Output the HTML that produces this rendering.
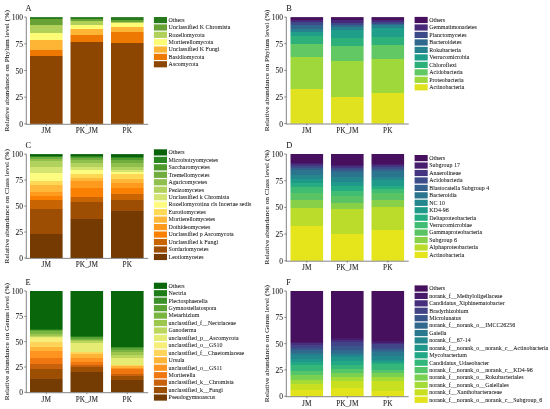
<!DOCTYPE html>
<html><head><meta charset="utf-8"><style>
html,body{margin:0;padding:0;background:#fff;}
svg{display:block;}
#w{width:550px;height:409px;will-change:transform;}
text{font-family:"Liberation Serif", serif;fill:#222;}
.ax{stroke:#222;stroke-width:0.06px;}
.lg{stroke:#222;stroke-width:0.06px;}
</style></head><body><div id="w">
<svg width="550" height="409" viewBox="0 0 550 409">
<rect width="550" height="409" fill="#fff"/>
<linearGradient id="gA0" gradientUnits="userSpaceOnUse" x1="0" y1="17.1" x2="0" y2="123.9"><stop offset="0.0000" stop-color="#267a1c"/><stop offset="0.0150" stop-color="#267a1c"/><stop offset="0.0150" stop-color="#68a234"/><stop offset="0.0730" stop-color="#68a234"/><stop offset="0.0730" stop-color="#b0d05a"/><stop offset="0.1517" stop-color="#b0d05a"/><stop offset="0.1517" stop-color="#fefb76"/><stop offset="0.2154" stop-color="#fefb76"/><stop offset="0.2154" stop-color="#feb434"/><stop offset="0.3052" stop-color="#feb434"/><stop offset="0.3052" stop-color="#ed7802"/><stop offset="0.3605" stop-color="#ed7802"/><stop offset="0.3605" stop-color="#8c4602"/><stop offset="1.0000" stop-color="#8c4602"/></linearGradient>
<rect x="30" y="17.1" width="32.6" height="106.8" fill="url(#gA0)"/>
<linearGradient id="gA1" gradientUnits="userSpaceOnUse" x1="0" y1="17.1" x2="0" y2="123.9"><stop offset="0.0000" stop-color="#267a1c"/><stop offset="0.0178" stop-color="#267a1c"/><stop offset="0.0178" stop-color="#68a234"/><stop offset="0.0346" stop-color="#68a234"/><stop offset="0.0346" stop-color="#b0d05a"/><stop offset="0.0730" stop-color="#b0d05a"/><stop offset="0.0730" stop-color="#fefb76"/><stop offset="0.1114" stop-color="#fefb76"/><stop offset="0.1114" stop-color="#feb434"/><stop offset="0.1667" stop-color="#feb434"/><stop offset="0.1667" stop-color="#ed7802"/><stop offset="0.2331" stop-color="#ed7802"/><stop offset="0.2331" stop-color="#8c4602"/><stop offset="1.0000" stop-color="#8c4602"/></linearGradient>
<rect x="70.5" y="17.1" width="32.6" height="106.8" fill="url(#gA1)"/>
<linearGradient id="gA2" gradientUnits="userSpaceOnUse" x1="0" y1="17.1" x2="0" y2="123.9"><stop offset="0.0000" stop-color="#267a1c"/><stop offset="0.0234" stop-color="#267a1c"/><stop offset="0.0234" stop-color="#68a234"/><stop offset="0.0412" stop-color="#68a234"/><stop offset="0.0412" stop-color="#b0d05a"/><stop offset="0.0506" stop-color="#b0d05a"/><stop offset="0.0506" stop-color="#fefb76"/><stop offset="0.0927" stop-color="#fefb76"/><stop offset="0.0927" stop-color="#feb434"/><stop offset="0.1414" stop-color="#feb434"/><stop offset="0.1414" stop-color="#ed7802"/><stop offset="0.2388" stop-color="#ed7802"/><stop offset="0.2388" stop-color="#8c4602"/><stop offset="1.0000" stop-color="#8c4602"/></linearGradient>
<rect x="111" y="17.1" width="32.6" height="106.8" fill="url(#gA2)"/>
<line x1="26.3" y1="17.1" x2="26.3" y2="124.3" stroke="#777" stroke-width="0.9"/>
<line x1="25.85" y1="124.3" x2="148.2" y2="124.3" stroke="#777" stroke-width="0.9"/>
<line x1="24.3" y1="17.1" x2="26.3" y2="17.1" stroke="#777" stroke-width="0.9"/>
<text x="23.1" y="20.1" text-anchor="end" font-size="7.2" textLength="11.25" lengthAdjust="spacingAndGlyphs" class="ax">100</text>
<line x1="24.3" y1="43.8" x2="26.3" y2="43.8" stroke="#777" stroke-width="0.9"/>
<text x="23.1" y="46.8" text-anchor="end" font-size="7.2" textLength="7.50" lengthAdjust="spacingAndGlyphs" class="ax">75</text>
<line x1="24.3" y1="70.5" x2="26.3" y2="70.5" stroke="#777" stroke-width="0.9"/>
<text x="23.1" y="73.5" text-anchor="end" font-size="7.2" textLength="7.50" lengthAdjust="spacingAndGlyphs" class="ax">50</text>
<line x1="24.3" y1="97.2" x2="26.3" y2="97.2" stroke="#777" stroke-width="0.9"/>
<text x="23.1" y="100.2" text-anchor="end" font-size="7.2" textLength="7.50" lengthAdjust="spacingAndGlyphs" class="ax">25</text>
<line x1="24.3" y1="123.9" x2="26.3" y2="123.9" stroke="#777" stroke-width="0.9"/>
<text x="23.1" y="126.9" text-anchor="end" font-size="7.2" textLength="3.75" lengthAdjust="spacingAndGlyphs" class="ax">0</text>
<line x1="46.3" y1="123.9" x2="46.3" y2="125.7" stroke="#777" stroke-width="0.9"/>
<text x="46.3" y="133.4" text-anchor="middle" font-size="7.2" textLength="9.33" lengthAdjust="spacingAndGlyphs" class="ax">JM</text>
<line x1="86.8" y1="123.9" x2="86.8" y2="125.7" stroke="#777" stroke-width="0.9"/>
<text x="86.8" y="133.4" text-anchor="middle" font-size="7.2" textLength="22.31" lengthAdjust="spacingAndGlyphs" class="ax">PK_JM</text>
<line x1="127.3" y1="123.9" x2="127.3" y2="125.7" stroke="#777" stroke-width="0.9"/>
<text x="127.3" y="133.4" text-anchor="middle" font-size="7.2" textLength="9.33" lengthAdjust="spacingAndGlyphs" class="ax">PK</text>
<text x="25.6" y="11" font-size="8.3" class="ax">A</text>
<text transform="translate(9.2,70.85) rotate(-90)" text-anchor="middle" font-size="7.0" textLength="121.45" lengthAdjust="spacingAndGlyphs" class="ax">Relative abundance on Phylum level (%)</text>
<rect x="153.9" y="17" width="13.1" height="6.2" fill="#267a1c"/>
<text x="168.6" y="21.9" font-size="6.6" textLength="15.86" lengthAdjust="spacingAndGlyphs" class="lg">Others</text>
<rect x="153.9" y="24.36" width="13.1" height="6.2" fill="#68a234"/>
<text x="168.6" y="29.26" font-size="6.6" textLength="61.81" lengthAdjust="spacingAndGlyphs" class="lg">Unclassified K Chromista</text>
<rect x="153.9" y="31.72" width="13.1" height="6.2" fill="#b0d05a"/>
<text x="168.6" y="36.62" font-size="6.6" textLength="36.02" lengthAdjust="spacingAndGlyphs" class="lg">Rozellomycota</text>
<rect x="153.9" y="39.08" width="13.1" height="6.2" fill="#fefb76"/>
<text x="168.6" y="43.98" font-size="6.6" textLength="44.61" lengthAdjust="spacingAndGlyphs" class="lg">Mortierellomycota</text>
<rect x="153.9" y="46.44" width="13.1" height="6.2" fill="#feb434"/>
<text x="168.6" y="51.34" font-size="6.6" textLength="50.90" lengthAdjust="spacingAndGlyphs" class="lg">Unclassified K Fungi</text>
<rect x="153.9" y="53.8" width="13.1" height="6.2" fill="#ed7802"/>
<text x="168.6" y="58.7" font-size="6.6" textLength="35.70" lengthAdjust="spacingAndGlyphs" class="lg">Basidiomycota</text>
<rect x="153.9" y="61.16" width="13.1" height="6.2" fill="#8c4602"/>
<text x="168.6" y="66.06" font-size="6.6" textLength="29.74" lengthAdjust="spacingAndGlyphs" class="lg">Ascomycota</text>
<linearGradient id="gB0" gradientUnits="userSpaceOnUse" x1="0" y1="17.1" x2="0" y2="123.6"><stop offset="0.0000" stop-color="#46105e"/><stop offset="0.0291" stop-color="#46105e"/><stop offset="0.0291" stop-color="#482878"/><stop offset="0.0498" stop-color="#482878"/><stop offset="0.0498" stop-color="#3e4989"/><stop offset="0.0779" stop-color="#3e4989"/><stop offset="0.0779" stop-color="#31688e"/><stop offset="0.1117" stop-color="#31688e"/><stop offset="0.1117" stop-color="#26828e"/><stop offset="0.1399" stop-color="#26828e"/><stop offset="0.1399" stop-color="#1f9e89"/><stop offset="0.1775" stop-color="#1f9e89"/><stop offset="0.1775" stop-color="#2db07a"/><stop offset="0.2516" stop-color="#2db07a"/><stop offset="0.2516" stop-color="#62c864"/><stop offset="0.3784" stop-color="#62c864"/><stop offset="0.3784" stop-color="#9fd83a"/><stop offset="0.6751" stop-color="#9fd83a"/><stop offset="0.6751" stop-color="#e0e21f"/><stop offset="1.0000" stop-color="#e0e21f"/></linearGradient>
<rect x="290.5" y="17.1" width="32.6" height="106.5" fill="url(#gB0)"/>
<linearGradient id="gB1" gradientUnits="userSpaceOnUse" x1="0" y1="17.1" x2="0" y2="123.6"><stop offset="0.0000" stop-color="#46105e"/><stop offset="0.0263" stop-color="#46105e"/><stop offset="0.0263" stop-color="#482878"/><stop offset="0.0516" stop-color="#482878"/><stop offset="0.0516" stop-color="#3e4989"/><stop offset="0.0695" stop-color="#3e4989"/><stop offset="0.0695" stop-color="#31688e"/><stop offset="0.0883" stop-color="#31688e"/><stop offset="0.0883" stop-color="#26828e"/><stop offset="0.1258" stop-color="#26828e"/><stop offset="0.1258" stop-color="#1f9e89"/><stop offset="0.1944" stop-color="#1f9e89"/><stop offset="0.1944" stop-color="#2db07a"/><stop offset="0.2685" stop-color="#2db07a"/><stop offset="0.2685" stop-color="#62c864"/><stop offset="0.4113" stop-color="#62c864"/><stop offset="0.4113" stop-color="#9fd83a"/><stop offset="0.7540" stop-color="#9fd83a"/><stop offset="0.7540" stop-color="#e0e21f"/><stop offset="1.0000" stop-color="#e0e21f"/></linearGradient>
<rect x="331" y="17.1" width="32.6" height="106.5" fill="url(#gB1)"/>
<linearGradient id="gB2" gradientUnits="userSpaceOnUse" x1="0" y1="17.1" x2="0" y2="123.6"><stop offset="0.0000" stop-color="#46105e"/><stop offset="0.0263" stop-color="#46105e"/><stop offset="0.0263" stop-color="#482878"/><stop offset="0.0451" stop-color="#482878"/><stop offset="0.0451" stop-color="#3e4989"/><stop offset="0.0601" stop-color="#3e4989"/><stop offset="0.0601" stop-color="#31688e"/><stop offset="0.0761" stop-color="#31688e"/><stop offset="0.0761" stop-color="#26828e"/><stop offset="0.1070" stop-color="#26828e"/><stop offset="0.1070" stop-color="#1f9e89"/><stop offset="0.1822" stop-color="#1f9e89"/><stop offset="0.1822" stop-color="#2db07a"/><stop offset="0.2620" stop-color="#2db07a"/><stop offset="0.2620" stop-color="#62c864"/><stop offset="0.3925" stop-color="#62c864"/><stop offset="0.3925" stop-color="#9fd83a"/><stop offset="0.7108" stop-color="#9fd83a"/><stop offset="0.7108" stop-color="#e0e21f"/><stop offset="1.0000" stop-color="#e0e21f"/></linearGradient>
<rect x="371.5" y="17.1" width="32.6" height="106.5" fill="url(#gB2)"/>
<line x1="286.3" y1="17.1" x2="286.3" y2="124" stroke="#777" stroke-width="0.9"/>
<line x1="285.85" y1="124" x2="408.7" y2="124" stroke="#777" stroke-width="0.9"/>
<line x1="284.3" y1="17.1" x2="286.3" y2="17.1" stroke="#777" stroke-width="0.9"/>
<text x="283.1" y="20.1" text-anchor="end" font-size="7.2" textLength="11.25" lengthAdjust="spacingAndGlyphs" class="ax">100</text>
<line x1="284.3" y1="43.73" x2="286.3" y2="43.73" stroke="#777" stroke-width="0.9"/>
<text x="283.1" y="46.73" text-anchor="end" font-size="7.2" textLength="7.50" lengthAdjust="spacingAndGlyphs" class="ax">75</text>
<line x1="284.3" y1="70.35" x2="286.3" y2="70.35" stroke="#777" stroke-width="0.9"/>
<text x="283.1" y="73.35" text-anchor="end" font-size="7.2" textLength="7.50" lengthAdjust="spacingAndGlyphs" class="ax">50</text>
<line x1="284.3" y1="96.97" x2="286.3" y2="96.97" stroke="#777" stroke-width="0.9"/>
<text x="283.1" y="99.97" text-anchor="end" font-size="7.2" textLength="7.50" lengthAdjust="spacingAndGlyphs" class="ax">25</text>
<line x1="284.3" y1="123.6" x2="286.3" y2="123.6" stroke="#777" stroke-width="0.9"/>
<text x="283.1" y="126.6" text-anchor="end" font-size="7.2" textLength="3.75" lengthAdjust="spacingAndGlyphs" class="ax">0</text>
<line x1="306.8" y1="123.6" x2="306.8" y2="125.4" stroke="#777" stroke-width="0.9"/>
<text x="306.8" y="133" text-anchor="middle" font-size="7.2" textLength="9.33" lengthAdjust="spacingAndGlyphs" class="ax">JM</text>
<line x1="347.3" y1="123.6" x2="347.3" y2="125.4" stroke="#777" stroke-width="0.9"/>
<text x="347.3" y="133" text-anchor="middle" font-size="7.2" textLength="22.31" lengthAdjust="spacingAndGlyphs" class="ax">PK_JM</text>
<line x1="387.8" y1="123.6" x2="387.8" y2="125.4" stroke="#777" stroke-width="0.9"/>
<text x="387.8" y="133" text-anchor="middle" font-size="7.2" textLength="9.33" lengthAdjust="spacingAndGlyphs" class="ax">PK</text>
<text x="286.3" y="10.8" font-size="8.3" class="ax">B</text>
<text transform="translate(269.2,70.45) rotate(-90)" text-anchor="middle" font-size="7.0" textLength="121.45" lengthAdjust="spacingAndGlyphs" class="ax">Relative abundance on Phylum level (%)</text>
<rect x="414.6" y="16.9" width="13.1" height="6.2" fill="#46105e"/>
<text x="429.3" y="21.8" font-size="6.6" textLength="15.86" lengthAdjust="spacingAndGlyphs" class="lg">Others</text>
<rect x="414.6" y="24.38" width="13.1" height="6.2" fill="#482878"/>
<text x="429.3" y="29.28" font-size="6.6" textLength="47.59" lengthAdjust="spacingAndGlyphs" class="lg">Gemmatimonadetes</text>
<rect x="414.6" y="31.86" width="13.1" height="6.2" fill="#3e4989"/>
<text x="429.3" y="36.76" font-size="6.6" textLength="37.34" lengthAdjust="spacingAndGlyphs" class="lg">Planctomycetes</text>
<rect x="414.6" y="39.34" width="13.1" height="6.2" fill="#31688e"/>
<text x="429.3" y="44.24" font-size="6.6" textLength="32.38" lengthAdjust="spacingAndGlyphs" class="lg">Bacteroidetes</text>
<rect x="414.6" y="46.82" width="13.1" height="6.2" fill="#26828e"/>
<text x="429.3" y="51.72" font-size="6.6" textLength="31.72" lengthAdjust="spacingAndGlyphs" class="lg">Rokubacteria</text>
<rect x="414.6" y="54.3" width="13.1" height="6.2" fill="#1f9e89"/>
<text x="429.3" y="59.2" font-size="6.6" textLength="39.98" lengthAdjust="spacingAndGlyphs" class="lg">Verrucomicrobia</text>
<rect x="414.6" y="61.78" width="13.1" height="6.2" fill="#2db07a"/>
<text x="429.3" y="66.68" font-size="6.6" textLength="27.43" lengthAdjust="spacingAndGlyphs" class="lg">Chloroflexi</text>
<rect x="414.6" y="69.26" width="13.1" height="6.2" fill="#62c864"/>
<text x="429.3" y="74.16" font-size="6.6" textLength="33.37" lengthAdjust="spacingAndGlyphs" class="lg">Acidobacteria</text>
<rect x="414.6" y="76.74" width="13.1" height="6.2" fill="#9fd83a"/>
<text x="429.3" y="81.64" font-size="6.6" textLength="34.36" lengthAdjust="spacingAndGlyphs" class="lg">Proteobacteria</text>
<rect x="414.6" y="84.22" width="13.1" height="6.2" fill="#e0e21f"/>
<text x="429.3" y="89.12" font-size="6.6" textLength="35.02" lengthAdjust="spacingAndGlyphs" class="lg">Actinobacteria</text>
<linearGradient id="gC0" gradientUnits="userSpaceOnUse" x1="0" y1="154.1" x2="0" y2="258"><stop offset="0.0000" stop-color="#08620a"/><stop offset="0.0164" stop-color="#08620a"/><stop offset="0.0164" stop-color="#2a8620"/><stop offset="0.0231" stop-color="#2a8620"/><stop offset="0.0231" stop-color="#4f9a2d"/><stop offset="0.0327" stop-color="#4f9a2d"/><stop offset="0.0327" stop-color="#70ad3e"/><stop offset="0.0481" stop-color="#70ad3e"/><stop offset="0.0481" stop-color="#8fbf4d"/><stop offset="0.0693" stop-color="#8fbf4d"/><stop offset="0.0693" stop-color="#b2d25e"/><stop offset="0.1222" stop-color="#b2d25e"/><stop offset="0.1222" stop-color="#d4e470"/><stop offset="0.1819" stop-color="#d4e470"/><stop offset="0.1819" stop-color="#fdfb80"/><stop offset="0.2570" stop-color="#fdfb80"/><stop offset="0.2570" stop-color="#ffd955"/><stop offset="0.2945" stop-color="#ffd955"/><stop offset="0.2945" stop-color="#ffb83a"/><stop offset="0.3648" stop-color="#ffb83a"/><stop offset="0.3648" stop-color="#ff9a1f"/><stop offset="0.4052" stop-color="#ff9a1f"/><stop offset="0.4052" stop-color="#f98002"/><stop offset="0.4418" stop-color="#f98002"/><stop offset="0.4418" stop-color="#c96402"/><stop offset="0.5265" stop-color="#c96402"/><stop offset="0.5265" stop-color="#9e4e02"/><stop offset="0.7680" stop-color="#9e4e02"/><stop offset="0.7680" stop-color="#743a02"/><stop offset="1.0000" stop-color="#743a02"/></linearGradient>
<rect x="30" y="154.1" width="32.6" height="103.9" fill="url(#gC0)"/>
<linearGradient id="gC1" gradientUnits="userSpaceOnUse" x1="0" y1="154.1" x2="0" y2="258"><stop offset="0.0000" stop-color="#08620a"/><stop offset="0.0173" stop-color="#08620a"/><stop offset="0.0173" stop-color="#2a8620"/><stop offset="0.0279" stop-color="#2a8620"/><stop offset="0.0279" stop-color="#4f9a2d"/><stop offset="0.0385" stop-color="#4f9a2d"/><stop offset="0.0385" stop-color="#70ad3e"/><stop offset="0.0597" stop-color="#70ad3e"/><stop offset="0.0597" stop-color="#8fbf4d"/><stop offset="0.0876" stop-color="#8fbf4d"/><stop offset="0.0876" stop-color="#b2d25e"/><stop offset="0.1232" stop-color="#b2d25e"/><stop offset="0.1232" stop-color="#d4e470"/><stop offset="0.1550" stop-color="#d4e470"/><stop offset="0.1550" stop-color="#fdfb80"/><stop offset="0.1935" stop-color="#fdfb80"/><stop offset="0.1935" stop-color="#ffd955"/><stop offset="0.2291" stop-color="#ffd955"/><stop offset="0.2291" stop-color="#ffb83a"/><stop offset="0.2637" stop-color="#ffb83a"/><stop offset="0.2637" stop-color="#ff9a1f"/><stop offset="0.3272" stop-color="#ff9a1f"/><stop offset="0.3272" stop-color="#f98002"/><stop offset="0.4100" stop-color="#f98002"/><stop offset="0.4100" stop-color="#c96402"/><stop offset="0.4620" stop-color="#c96402"/><stop offset="0.4620" stop-color="#9e4e02"/><stop offset="0.6227" stop-color="#9e4e02"/><stop offset="0.6227" stop-color="#743a02"/><stop offset="1.0000" stop-color="#743a02"/></linearGradient>
<rect x="70.5" y="154.1" width="32.6" height="103.9" fill="url(#gC1)"/>
<linearGradient id="gC2" gradientUnits="userSpaceOnUse" x1="0" y1="154.1" x2="0" y2="258"><stop offset="0.0000" stop-color="#08620a"/><stop offset="0.0241" stop-color="#08620a"/><stop offset="0.0241" stop-color="#2a8620"/><stop offset="0.0375" stop-color="#2a8620"/><stop offset="0.0375" stop-color="#4f9a2d"/><stop offset="0.0520" stop-color="#4f9a2d"/><stop offset="0.0520" stop-color="#70ad3e"/><stop offset="0.0876" stop-color="#70ad3e"/><stop offset="0.0876" stop-color="#8fbf4d"/><stop offset="0.1232" stop-color="#8fbf4d"/><stop offset="0.1232" stop-color="#b2d25e"/><stop offset="0.1511" stop-color="#b2d25e"/><stop offset="0.1511" stop-color="#d4e470"/><stop offset="0.1723" stop-color="#d4e470"/><stop offset="0.1723" stop-color="#fdfb80"/><stop offset="0.1935" stop-color="#fdfb80"/><stop offset="0.1935" stop-color="#ffd955"/><stop offset="0.2358" stop-color="#ffd955"/><stop offset="0.2358" stop-color="#ffb83a"/><stop offset="0.2782" stop-color="#ffb83a"/><stop offset="0.2782" stop-color="#ff9a1f"/><stop offset="0.3224" stop-color="#ff9a1f"/><stop offset="0.3224" stop-color="#f98002"/><stop offset="0.3888" stop-color="#f98002"/><stop offset="0.3888" stop-color="#c96402"/><stop offset="0.4418" stop-color="#c96402"/><stop offset="0.4418" stop-color="#9e4e02"/><stop offset="0.5476" stop-color="#9e4e02"/><stop offset="0.5476" stop-color="#743a02"/><stop offset="1.0000" stop-color="#743a02"/></linearGradient>
<rect x="111" y="154.1" width="32.6" height="103.9" fill="url(#gC2)"/>
<line x1="26.3" y1="154.1" x2="26.3" y2="258.4" stroke="#777" stroke-width="0.9"/>
<line x1="25.85" y1="258.4" x2="148.2" y2="258.4" stroke="#777" stroke-width="0.9"/>
<line x1="24.3" y1="154.1" x2="26.3" y2="154.1" stroke="#777" stroke-width="0.9"/>
<text x="23.1" y="157.1" text-anchor="end" font-size="7.2" textLength="11.25" lengthAdjust="spacingAndGlyphs" class="ax">100</text>
<line x1="24.3" y1="180.07" x2="26.3" y2="180.07" stroke="#777" stroke-width="0.9"/>
<text x="23.1" y="183.07" text-anchor="end" font-size="7.2" textLength="7.50" lengthAdjust="spacingAndGlyphs" class="ax">75</text>
<line x1="24.3" y1="206.05" x2="26.3" y2="206.05" stroke="#777" stroke-width="0.9"/>
<text x="23.1" y="209.05" text-anchor="end" font-size="7.2" textLength="7.50" lengthAdjust="spacingAndGlyphs" class="ax">50</text>
<line x1="24.3" y1="232.03" x2="26.3" y2="232.03" stroke="#777" stroke-width="0.9"/>
<text x="23.1" y="235.03" text-anchor="end" font-size="7.2" textLength="7.50" lengthAdjust="spacingAndGlyphs" class="ax">25</text>
<line x1="24.3" y1="258" x2="26.3" y2="258" stroke="#777" stroke-width="0.9"/>
<text x="23.1" y="261" text-anchor="end" font-size="7.2" textLength="3.75" lengthAdjust="spacingAndGlyphs" class="ax">0</text>
<line x1="46.3" y1="258" x2="46.3" y2="259.8" stroke="#777" stroke-width="0.9"/>
<text x="46.3" y="266.9" text-anchor="middle" font-size="7.2" textLength="9.33" lengthAdjust="spacingAndGlyphs" class="ax">JM</text>
<line x1="86.8" y1="258" x2="86.8" y2="259.8" stroke="#777" stroke-width="0.9"/>
<text x="86.8" y="266.9" text-anchor="middle" font-size="7.2" textLength="22.31" lengthAdjust="spacingAndGlyphs" class="ax">PK_JM</text>
<line x1="127.3" y1="258" x2="127.3" y2="259.8" stroke="#777" stroke-width="0.9"/>
<text x="127.3" y="266.9" text-anchor="middle" font-size="7.2" textLength="9.33" lengthAdjust="spacingAndGlyphs" class="ax">PK</text>
<text x="25.6" y="147.5" font-size="8.3" class="ax">C</text>
<text transform="translate(9.2,206.25) rotate(-90)" text-anchor="middle" font-size="7.0" textLength="114.46" lengthAdjust="spacingAndGlyphs" class="ax">Relative abundance on Class level (%)</text>
<rect x="153.9" y="149.3" width="13.1" height="6.2" fill="#08620a"/>
<text x="168.6" y="154.2" font-size="6.6" textLength="15.86" lengthAdjust="spacingAndGlyphs" class="lg">Others</text>
<rect x="153.9" y="156.77" width="13.1" height="6.2" fill="#2a8620"/>
<text x="168.6" y="161.67" font-size="6.6" textLength="49.57" lengthAdjust="spacingAndGlyphs" class="lg">Microbotryomycetes</text>
<rect x="153.9" y="164.24" width="13.1" height="6.2" fill="#4f9a2d"/>
<text x="168.6" y="169.14" font-size="6.6" textLength="41.30" lengthAdjust="spacingAndGlyphs" class="lg">Saccharomycetes</text>
<rect x="153.9" y="171.71" width="13.1" height="6.2" fill="#70ad3e"/>
<text x="168.6" y="176.61" font-size="6.6" textLength="41.09" lengthAdjust="spacingAndGlyphs" class="lg">Tremellomycetes</text>
<rect x="153.9" y="179.18" width="13.1" height="6.2" fill="#8fbf4d"/>
<text x="168.6" y="184.08" font-size="6.6" textLength="38.66" lengthAdjust="spacingAndGlyphs" class="lg">Agaricomycetes</text>
<rect x="153.9" y="186.65" width="13.1" height="6.2" fill="#b2d25e"/>
<text x="168.6" y="191.55" font-size="6.6" textLength="35.36" lengthAdjust="spacingAndGlyphs" class="lg">Pezizomycetes</text>
<rect x="153.9" y="194.12" width="13.1" height="6.2" fill="#d4e470"/>
<text x="168.6" y="199.02" font-size="6.6" textLength="60.48" lengthAdjust="spacingAndGlyphs" class="lg">Unclassified k Chromista</text>
<rect x="153.9" y="201.59" width="13.1" height="6.2" fill="#fdfb80"/>
<text x="168.6" y="206.49" font-size="6.6" textLength="82.78" lengthAdjust="spacingAndGlyphs" class="lg">Rozellomycotina cls Incertae sedis</text>
<rect x="153.9" y="209.06" width="13.1" height="6.2" fill="#ffd955"/>
<text x="168.6" y="213.96" font-size="6.6" textLength="37.34" lengthAdjust="spacingAndGlyphs" class="lg">Eurotiomycetes</text>
<rect x="153.9" y="216.53" width="13.1" height="6.2" fill="#ffb83a"/>
<text x="168.6" y="221.43" font-size="6.6" textLength="46.59" lengthAdjust="spacingAndGlyphs" class="lg">Mortierellomycetes</text>
<rect x="153.9" y="224" width="13.1" height="6.2" fill="#ff9a1f"/>
<text x="168.6" y="228.9" font-size="6.6" textLength="41.64" lengthAdjust="spacingAndGlyphs" class="lg">Dothideomycetes</text>
<rect x="153.9" y="231.47" width="13.1" height="6.2" fill="#f98002"/>
<text x="168.6" y="236.37" font-size="6.6" textLength="65.11" lengthAdjust="spacingAndGlyphs" class="lg">Unclassified p Ascomycota</text>
<rect x="153.9" y="238.94" width="13.1" height="6.2" fill="#c96402"/>
<text x="168.6" y="243.84" font-size="6.6" textLength="49.58" lengthAdjust="spacingAndGlyphs" class="lg">Unclassified k Fungi</text>
<rect x="153.9" y="246.41" width="13.1" height="6.2" fill="#9e4e02"/>
<text x="168.6" y="251.31" font-size="6.6" textLength="39.99" lengthAdjust="spacingAndGlyphs" class="lg">Sordariomycetes</text>
<rect x="153.9" y="253.88" width="13.1" height="6.2" fill="#743a02"/>
<text x="168.6" y="258.78" font-size="6.6" textLength="35.03" lengthAdjust="spacingAndGlyphs" class="lg">Leotiomycetes</text>
<linearGradient id="gD0" gradientUnits="userSpaceOnUse" x1="0" y1="154" x2="0" y2="260.8"><stop offset="0.0000" stop-color="#46105e"/><stop offset="0.0871" stop-color="#46105e"/><stop offset="0.0871" stop-color="#481c6e"/><stop offset="0.0983" stop-color="#481c6e"/><stop offset="0.0983" stop-color="#453581"/><stop offset="0.1105" stop-color="#453581"/><stop offset="0.1105" stop-color="#3d4d8a"/><stop offset="0.1330" stop-color="#3d4d8a"/><stop offset="0.1330" stop-color="#34618d"/><stop offset="0.1526" stop-color="#34618d"/><stop offset="0.1526" stop-color="#2b748e"/><stop offset="0.1938" stop-color="#2b748e"/><stop offset="0.1938" stop-color="#24878e"/><stop offset="0.2350" stop-color="#24878e"/><stop offset="0.2350" stop-color="#1f998a"/><stop offset="0.2725" stop-color="#1f998a"/><stop offset="0.2725" stop-color="#25ac82"/><stop offset="0.3090" stop-color="#25ac82"/><stop offset="0.3090" stop-color="#40bd72"/><stop offset="0.3680" stop-color="#40bd72"/><stop offset="0.3680" stop-color="#5ac464"/><stop offset="0.4307" stop-color="#5ac464"/><stop offset="0.4307" stop-color="#88d048"/><stop offset="0.5037" stop-color="#88d048"/><stop offset="0.5037" stop-color="#bcdc2c"/><stop offset="0.6751" stop-color="#bcdc2c"/><stop offset="0.6751" stop-color="#e6e41a"/><stop offset="1.0000" stop-color="#e6e41a"/></linearGradient>
<rect x="290.5" y="154" width="32.6" height="106.8" fill="url(#gD0)"/>
<linearGradient id="gD1" gradientUnits="userSpaceOnUse" x1="0" y1="154" x2="0" y2="260.8"><stop offset="0.0000" stop-color="#46105e"/><stop offset="0.1058" stop-color="#46105e"/><stop offset="0.1058" stop-color="#481c6e"/><stop offset="0.1170" stop-color="#481c6e"/><stop offset="0.1170" stop-color="#453581"/><stop offset="0.1301" stop-color="#453581"/><stop offset="0.1301" stop-color="#3d4d8a"/><stop offset="0.1517" stop-color="#3d4d8a"/><stop offset="0.1517" stop-color="#34618d"/><stop offset="0.1732" stop-color="#34618d"/><stop offset="0.1732" stop-color="#2b748e"/><stop offset="0.2172" stop-color="#2b748e"/><stop offset="0.2172" stop-color="#24878e"/><stop offset="0.2659" stop-color="#24878e"/><stop offset="0.2659" stop-color="#1f998a"/><stop offset="0.2996" stop-color="#1f998a"/><stop offset="0.2996" stop-color="#25ac82"/><stop offset="0.3418" stop-color="#25ac82"/><stop offset="0.3418" stop-color="#40bd72"/><stop offset="0.3979" stop-color="#40bd72"/><stop offset="0.3979" stop-color="#5ac464"/><stop offset="0.4579" stop-color="#5ac464"/><stop offset="0.4579" stop-color="#88d048"/><stop offset="0.5112" stop-color="#88d048"/><stop offset="0.5112" stop-color="#bcdc2c"/><stop offset="0.7491" stop-color="#bcdc2c"/><stop offset="0.7491" stop-color="#e6e41a"/><stop offset="1.0000" stop-color="#e6e41a"/></linearGradient>
<rect x="331" y="154" width="32.6" height="106.8" fill="url(#gD1)"/>
<linearGradient id="gD2" gradientUnits="userSpaceOnUse" x1="0" y1="154" x2="0" y2="260.8"><stop offset="0.0000" stop-color="#46105e"/><stop offset="0.0936" stop-color="#46105e"/><stop offset="0.0936" stop-color="#481c6e"/><stop offset="0.1058" stop-color="#481c6e"/><stop offset="0.1058" stop-color="#453581"/><stop offset="0.1180" stop-color="#453581"/><stop offset="0.1180" stop-color="#3d4d8a"/><stop offset="0.1395" stop-color="#3d4d8a"/><stop offset="0.1395" stop-color="#34618d"/><stop offset="0.1610" stop-color="#34618d"/><stop offset="0.1610" stop-color="#2b748e"/><stop offset="0.2107" stop-color="#2b748e"/><stop offset="0.2107" stop-color="#24878e"/><stop offset="0.2481" stop-color="#24878e"/><stop offset="0.2481" stop-color="#1f998a"/><stop offset="0.2968" stop-color="#1f998a"/><stop offset="0.2968" stop-color="#25ac82"/><stop offset="0.3277" stop-color="#25ac82"/><stop offset="0.3277" stop-color="#40bd72"/><stop offset="0.3605" stop-color="#40bd72"/><stop offset="0.3605" stop-color="#5ac464"/><stop offset="0.4326" stop-color="#5ac464"/><stop offset="0.4326" stop-color="#88d048"/><stop offset="0.4963" stop-color="#88d048"/><stop offset="0.4963" stop-color="#bcdc2c"/><stop offset="0.7079" stop-color="#bcdc2c"/><stop offset="0.7079" stop-color="#e6e41a"/><stop offset="1.0000" stop-color="#e6e41a"/></linearGradient>
<rect x="371.5" y="154" width="32.6" height="106.8" fill="url(#gD2)"/>
<line x1="286.3" y1="154" x2="286.3" y2="261.2" stroke="#777" stroke-width="0.9"/>
<line x1="285.85" y1="261.2" x2="408.7" y2="261.2" stroke="#777" stroke-width="0.9"/>
<line x1="284.3" y1="154" x2="286.3" y2="154" stroke="#777" stroke-width="0.9"/>
<text x="283.1" y="157" text-anchor="end" font-size="7.2" textLength="11.25" lengthAdjust="spacingAndGlyphs" class="ax">100</text>
<line x1="284.3" y1="180.7" x2="286.3" y2="180.7" stroke="#777" stroke-width="0.9"/>
<text x="283.1" y="183.7" text-anchor="end" font-size="7.2" textLength="7.50" lengthAdjust="spacingAndGlyphs" class="ax">75</text>
<line x1="284.3" y1="207.4" x2="286.3" y2="207.4" stroke="#777" stroke-width="0.9"/>
<text x="283.1" y="210.4" text-anchor="end" font-size="7.2" textLength="7.50" lengthAdjust="spacingAndGlyphs" class="ax">50</text>
<line x1="284.3" y1="234.1" x2="286.3" y2="234.1" stroke="#777" stroke-width="0.9"/>
<text x="283.1" y="237.1" text-anchor="end" font-size="7.2" textLength="7.50" lengthAdjust="spacingAndGlyphs" class="ax">25</text>
<line x1="284.3" y1="260.8" x2="286.3" y2="260.8" stroke="#777" stroke-width="0.9"/>
<text x="283.1" y="263.8" text-anchor="end" font-size="7.2" textLength="3.75" lengthAdjust="spacingAndGlyphs" class="ax">0</text>
<line x1="306.8" y1="260.8" x2="306.8" y2="262.6" stroke="#777" stroke-width="0.9"/>
<text x="306.8" y="269.9" text-anchor="middle" font-size="7.2" textLength="9.33" lengthAdjust="spacingAndGlyphs" class="ax">JM</text>
<line x1="347.3" y1="260.8" x2="347.3" y2="262.6" stroke="#777" stroke-width="0.9"/>
<text x="347.3" y="269.9" text-anchor="middle" font-size="7.2" textLength="22.31" lengthAdjust="spacingAndGlyphs" class="ax">PK_JM</text>
<line x1="387.8" y1="260.8" x2="387.8" y2="262.6" stroke="#777" stroke-width="0.9"/>
<text x="387.8" y="269.9" text-anchor="middle" font-size="7.2" textLength="9.33" lengthAdjust="spacingAndGlyphs" class="ax">PK</text>
<text x="286.3" y="147.5" font-size="8.3" class="ax">D</text>
<text transform="translate(269.2,207.2) rotate(-90)" text-anchor="middle" font-size="7.0" textLength="114.46" lengthAdjust="spacingAndGlyphs" class="ax">Relative abundance on Class level (%)</text>
<rect x="414.6" y="155" width="13.1" height="6.2" fill="#46105e"/>
<text x="429.3" y="159.9" font-size="6.6" textLength="15.86" lengthAdjust="spacingAndGlyphs" class="lg">Others</text>
<rect x="414.6" y="162.45" width="13.1" height="6.2" fill="#481c6e"/>
<text x="429.3" y="167.35" font-size="6.6" textLength="30.58" lengthAdjust="spacingAndGlyphs" class="lg">Subgroup 17</text>
<rect x="414.6" y="169.9" width="13.1" height="6.2" fill="#453581"/>
<text x="429.3" y="174.8" font-size="6.6" textLength="31.72" lengthAdjust="spacingAndGlyphs" class="lg">Anaerolineae</text>
<rect x="414.6" y="177.35" width="13.1" height="6.2" fill="#3d4d8a"/>
<text x="429.3" y="182.25" font-size="6.6" textLength="33.37" lengthAdjust="spacingAndGlyphs" class="lg">Acidobacteria</text>
<rect x="414.6" y="184.8" width="13.1" height="6.2" fill="#34618d"/>
<text x="429.3" y="189.7" font-size="6.6" textLength="59.82" lengthAdjust="spacingAndGlyphs" class="lg">Blastocatella Subgroup 4</text>
<rect x="414.6" y="192.25" width="13.1" height="6.2" fill="#2b748e"/>
<text x="429.3" y="197.15" font-size="6.6" textLength="27.42" lengthAdjust="spacingAndGlyphs" class="lg">Bacteroidia</text>
<rect x="414.6" y="199.7" width="13.1" height="6.2" fill="#24878e"/>
<text x="429.3" y="204.6" font-size="6.6" textLength="15.70" lengthAdjust="spacingAndGlyphs" class="lg">NC 10</text>
<rect x="414.6" y="207.15" width="13.1" height="6.2" fill="#1f998a"/>
<text x="429.3" y="212.05" font-size="6.6" textLength="19.50" lengthAdjust="spacingAndGlyphs" class="lg">KD4-96</text>
<rect x="414.6" y="214.6" width="13.1" height="6.2" fill="#25ac82"/>
<text x="429.3" y="219.5" font-size="6.6" textLength="46.91" lengthAdjust="spacingAndGlyphs" class="lg">Deltaproteobacteria</text>
<rect x="414.6" y="222.05" width="13.1" height="6.2" fill="#40bd72"/>
<text x="429.3" y="226.95" font-size="6.6" textLength="42.62" lengthAdjust="spacingAndGlyphs" class="lg">Verrucomicrobiae</text>
<rect x="414.6" y="229.5" width="13.1" height="6.2" fill="#5ac464"/>
<text x="429.3" y="234.4" font-size="6.6" textLength="52.86" lengthAdjust="spacingAndGlyphs" class="lg">Gammaproteobacteria</text>
<rect x="414.6" y="236.95" width="13.1" height="6.2" fill="#88d048"/>
<text x="429.3" y="241.85" font-size="6.6" textLength="27.60" lengthAdjust="spacingAndGlyphs" class="lg">Subgroup 6</text>
<rect x="414.6" y="244.4" width="13.1" height="6.2" fill="#bcdc2c"/>
<text x="429.3" y="249.3" font-size="6.6" textLength="48.57" lengthAdjust="spacingAndGlyphs" class="lg">Alphaproteobacteria</text>
<rect x="414.6" y="251.85" width="13.1" height="6.2" fill="#e6e41a"/>
<text x="429.3" y="256.75" font-size="6.6" textLength="35.02" lengthAdjust="spacingAndGlyphs" class="lg">Actinobacteria</text>
<linearGradient id="gE0" gradientUnits="userSpaceOnUse" x1="0" y1="291" x2="0" y2="392.3"><stop offset="0.0000" stop-color="#0a660a"/><stop offset="0.3722" stop-color="#0a660a"/><stop offset="0.3722" stop-color="#1f7d18"/><stop offset="0.3810" stop-color="#1f7d18"/><stop offset="0.3810" stop-color="#3c9029"/><stop offset="0.3889" stop-color="#3c9029"/><stop offset="0.3889" stop-color="#5ca336"/><stop offset="0.3968" stop-color="#5ca336"/><stop offset="0.3968" stop-color="#7ab541"/><stop offset="0.4205" stop-color="#7ab541"/><stop offset="0.4205" stop-color="#9cc64e"/><stop offset="0.4452" stop-color="#9cc64e"/><stop offset="0.4452" stop-color="#bcd75e"/><stop offset="0.4571" stop-color="#bcd75e"/><stop offset="0.4571" stop-color="#e6eb74"/><stop offset="0.4689" stop-color="#e6eb74"/><stop offset="0.4689" stop-color="#f7ee7a"/><stop offset="0.5054" stop-color="#f7ee7a"/><stop offset="0.5054" stop-color="#ffd458"/><stop offset="0.5479" stop-color="#ffd458"/><stop offset="0.5479" stop-color="#ffb438"/><stop offset="0.5874" stop-color="#ffb438"/><stop offset="0.5874" stop-color="#ff9520"/><stop offset="0.6565" stop-color="#ff9520"/><stop offset="0.6565" stop-color="#f07610"/><stop offset="0.7167" stop-color="#f07610"/><stop offset="0.7167" stop-color="#c8600c"/><stop offset="0.7749" stop-color="#c8600c"/><stop offset="0.7749" stop-color="#9c4e02"/><stop offset="0.8657" stop-color="#9c4e02"/><stop offset="0.8657" stop-color="#743c02"/><stop offset="1.0000" stop-color="#743c02"/></linearGradient>
<rect x="30" y="291" width="32.6" height="101.3" fill="url(#gE0)"/>
<linearGradient id="gE1" gradientUnits="userSpaceOnUse" x1="0" y1="291" x2="0" y2="392.3"><stop offset="0.0000" stop-color="#0a660a"/><stop offset="0.4432" stop-color="#0a660a"/><stop offset="0.4432" stop-color="#1f7d18"/><stop offset="0.4492" stop-color="#1f7d18"/><stop offset="0.4492" stop-color="#3c9029"/><stop offset="0.4590" stop-color="#3c9029"/><stop offset="0.4590" stop-color="#5ca336"/><stop offset="0.4699" stop-color="#5ca336"/><stop offset="0.4699" stop-color="#7ab541"/><stop offset="0.4817" stop-color="#7ab541"/><stop offset="0.4817" stop-color="#9cc64e"/><stop offset="0.4936" stop-color="#9cc64e"/><stop offset="0.4936" stop-color="#bcd75e"/><stop offset="0.5173" stop-color="#bcd75e"/><stop offset="0.5173" stop-color="#e6eb74"/><stop offset="0.6022" stop-color="#e6eb74"/><stop offset="0.6022" stop-color="#f7ee7a"/><stop offset="0.6061" stop-color="#f7ee7a"/><stop offset="0.6061" stop-color="#ffd458"/><stop offset="0.6259" stop-color="#ffd458"/><stop offset="0.6259" stop-color="#ffb438"/><stop offset="0.6565" stop-color="#ffb438"/><stop offset="0.6565" stop-color="#ff9520"/><stop offset="0.6989" stop-color="#ff9520"/><stop offset="0.6989" stop-color="#f07610"/><stop offset="0.7285" stop-color="#f07610"/><stop offset="0.7285" stop-color="#c8600c"/><stop offset="0.7532" stop-color="#c8600c"/><stop offset="0.7532" stop-color="#9c4e02"/><stop offset="0.8016" stop-color="#9c4e02"/><stop offset="0.8016" stop-color="#743c02"/><stop offset="1.0000" stop-color="#743c02"/></linearGradient>
<rect x="70.5" y="291" width="32.6" height="101.3" fill="url(#gE1)"/>
<linearGradient id="gE2" gradientUnits="userSpaceOnUse" x1="0" y1="291" x2="0" y2="392.3"><stop offset="0.0000" stop-color="#0a660a"/><stop offset="0.5568" stop-color="#0a660a"/><stop offset="0.5568" stop-color="#1f7d18"/><stop offset="0.5577" stop-color="#1f7d18"/><stop offset="0.5577" stop-color="#3c9029"/><stop offset="0.5587" stop-color="#3c9029"/><stop offset="0.5587" stop-color="#5ca336"/><stop offset="0.5805" stop-color="#5ca336"/><stop offset="0.5805" stop-color="#7ab541"/><stop offset="0.6032" stop-color="#7ab541"/><stop offset="0.6032" stop-color="#9cc64e"/><stop offset="0.6367" stop-color="#9cc64e"/><stop offset="0.6367" stop-color="#bcd75e"/><stop offset="0.6565" stop-color="#bcd75e"/><stop offset="0.6565" stop-color="#e6eb74"/><stop offset="0.7295" stop-color="#e6eb74"/><stop offset="0.7295" stop-color="#f7ee7a"/><stop offset="0.7335" stop-color="#f7ee7a"/><stop offset="0.7335" stop-color="#ffd458"/><stop offset="0.7433" stop-color="#ffd458"/><stop offset="0.7433" stop-color="#ffb438"/><stop offset="0.7562" stop-color="#ffb438"/><stop offset="0.7562" stop-color="#ff9520"/><stop offset="0.7651" stop-color="#ff9520"/><stop offset="0.7651" stop-color="#f07610"/><stop offset="0.8223" stop-color="#f07610"/><stop offset="0.8223" stop-color="#c8600c"/><stop offset="0.8421" stop-color="#c8600c"/><stop offset="0.8421" stop-color="#9c4e02"/><stop offset="0.8825" stop-color="#9c4e02"/><stop offset="0.8825" stop-color="#743c02"/><stop offset="1.0000" stop-color="#743c02"/></linearGradient>
<rect x="111" y="291" width="32.6" height="101.3" fill="url(#gE2)"/>
<line x1="26.3" y1="291" x2="26.3" y2="392.7" stroke="#777" stroke-width="0.9"/>
<line x1="25.85" y1="392.7" x2="148.2" y2="392.7" stroke="#777" stroke-width="0.9"/>
<line x1="24.3" y1="291" x2="26.3" y2="291" stroke="#777" stroke-width="0.9"/>
<text x="23.1" y="294" text-anchor="end" font-size="7.2" textLength="11.25" lengthAdjust="spacingAndGlyphs" class="ax">100</text>
<line x1="24.3" y1="316.32" x2="26.3" y2="316.32" stroke="#777" stroke-width="0.9"/>
<text x="23.1" y="319.32" text-anchor="end" font-size="7.2" textLength="7.50" lengthAdjust="spacingAndGlyphs" class="ax">75</text>
<line x1="24.3" y1="341.65" x2="26.3" y2="341.65" stroke="#777" stroke-width="0.9"/>
<text x="23.1" y="344.65" text-anchor="end" font-size="7.2" textLength="7.50" lengthAdjust="spacingAndGlyphs" class="ax">50</text>
<line x1="24.3" y1="366.98" x2="26.3" y2="366.98" stroke="#777" stroke-width="0.9"/>
<text x="23.1" y="369.98" text-anchor="end" font-size="7.2" textLength="7.50" lengthAdjust="spacingAndGlyphs" class="ax">25</text>
<line x1="24.3" y1="392.3" x2="26.3" y2="392.3" stroke="#777" stroke-width="0.9"/>
<text x="23.1" y="395.3" text-anchor="end" font-size="7.2" textLength="3.75" lengthAdjust="spacingAndGlyphs" class="ax">0</text>
<line x1="46.3" y1="392.3" x2="46.3" y2="394.1" stroke="#777" stroke-width="0.9"/>
<text x="46.3" y="401.7" text-anchor="middle" font-size="7.2" textLength="9.33" lengthAdjust="spacingAndGlyphs" class="ax">JM</text>
<line x1="86.8" y1="392.3" x2="86.8" y2="394.1" stroke="#777" stroke-width="0.9"/>
<text x="86.8" y="401.7" text-anchor="middle" font-size="7.2" textLength="22.31" lengthAdjust="spacingAndGlyphs" class="ax">PK_JM</text>
<line x1="127.3" y1="392.3" x2="127.3" y2="394.1" stroke="#777" stroke-width="0.9"/>
<text x="127.3" y="401.7" text-anchor="middle" font-size="7.2" textLength="9.33" lengthAdjust="spacingAndGlyphs" class="ax">PK</text>
<text x="25.6" y="284.9" font-size="8.3" class="ax">E</text>
<text transform="translate(9.2,341.6) rotate(-90)" text-anchor="middle" font-size="7.0" textLength="117.33" lengthAdjust="spacingAndGlyphs" class="ax">Relative abundance on Genus level (%)</text>
<rect x="153.9" y="282.7" width="13.1" height="6.2" fill="#0a660a"/>
<text x="168.6" y="287.6" font-size="6.6" textLength="15.86" lengthAdjust="spacingAndGlyphs" class="lg">Others</text>
<rect x="153.9" y="290.15" width="13.1" height="6.2" fill="#1f7d18"/>
<text x="168.6" y="295.05" font-size="6.6" textLength="17.51" lengthAdjust="spacingAndGlyphs" class="lg">Nectria</text>
<rect x="153.9" y="297.6" width="13.1" height="6.2" fill="#3c9029"/>
<text x="168.6" y="302.5" font-size="6.6" textLength="38.99" lengthAdjust="spacingAndGlyphs" class="lg">Plectosphaerella</text>
<rect x="153.9" y="305.05" width="13.1" height="6.2" fill="#5ca336"/>
<text x="168.6" y="309.95" font-size="6.6" textLength="47.92" lengthAdjust="spacingAndGlyphs" class="lg">Gymnostellatospora</text>
<rect x="153.9" y="312.5" width="13.1" height="6.2" fill="#7ab541"/>
<text x="168.6" y="317.4" font-size="6.6" textLength="30.73" lengthAdjust="spacingAndGlyphs" class="lg">Metarhizium</text>
<rect x="153.9" y="319.95" width="13.1" height="6.2" fill="#9cc64e"/>
<text x="168.6" y="324.85" font-size="6.6" textLength="67.40" lengthAdjust="spacingAndGlyphs" class="lg">unclassified_f__Nectriaceae</text>
<rect x="153.9" y="327.4" width="13.1" height="6.2" fill="#bcd75e"/>
<text x="168.6" y="332.3" font-size="6.6" textLength="27.75" lengthAdjust="spacingAndGlyphs" class="lg">Ganoderma</text>
<rect x="153.9" y="334.85" width="13.1" height="6.2" fill="#e6eb74"/>
<text x="168.6" y="339.75" font-size="6.6" textLength="70.06" lengthAdjust="spacingAndGlyphs" class="lg">unclassified_p__Ascomycota</text>
<rect x="153.9" y="342.3" width="13.1" height="6.2" fill="#f7ee7a"/>
<text x="168.6" y="347.2" font-size="6.6" textLength="53.88" lengthAdjust="spacingAndGlyphs" class="lg">unclassified_o__GS10</text>
<rect x="153.9" y="349.75" width="13.1" height="6.2" fill="#ffd458"/>
<text x="168.6" y="354.65" font-size="6.6" textLength="75.67" lengthAdjust="spacingAndGlyphs" class="lg">unclassified_f__Chaetomiaceae</text>
<rect x="153.9" y="357.2" width="13.1" height="6.2" fill="#ffb438"/>
<text x="168.6" y="362.1" font-size="6.6" textLength="15.86" lengthAdjust="spacingAndGlyphs" class="lg">Ursula</text>
<rect x="153.9" y="364.65" width="13.1" height="6.2" fill="#ff9520"/>
<text x="168.6" y="369.55" font-size="6.6" textLength="53.66" lengthAdjust="spacingAndGlyphs" class="lg">unclassified_o__GS11</text>
<rect x="153.9" y="372.1" width="13.1" height="6.2" fill="#f07610"/>
<text x="168.6" y="377" font-size="6.6" textLength="26.76" lengthAdjust="spacingAndGlyphs" class="lg">Mortierella</text>
<rect x="153.9" y="379.55" width="13.1" height="6.2" fill="#c8600c"/>
<text x="168.6" y="384.45" font-size="6.6" textLength="65.11" lengthAdjust="spacingAndGlyphs" class="lg">unclassified_k__Chromista</text>
<rect x="153.9" y="387" width="13.1" height="6.2" fill="#9c4e02"/>
<text x="168.6" y="391.9" font-size="6.6" textLength="54.21" lengthAdjust="spacingAndGlyphs" class="lg">unclassified_k__Fungi</text>
<rect x="153.9" y="394.45" width="13.1" height="6.2" fill="#743c02"/>
<text x="168.6" y="399.35" font-size="6.6" textLength="46.61" lengthAdjust="spacingAndGlyphs" class="lg">Pseudogymnoascus</text>
<linearGradient id="gF0" gradientUnits="userSpaceOnUse" x1="0" y1="291" x2="0" y2="396.3"><stop offset="0.0000" stop-color="#46105e"/><stop offset="0.4796" stop-color="#46105e"/><stop offset="0.4796" stop-color="#481a6c"/><stop offset="0.4967" stop-color="#481a6c"/><stop offset="0.4967" stop-color="#472f7d"/><stop offset="0.5157" stop-color="#472f7d"/><stop offset="0.5157" stop-color="#414487"/><stop offset="0.5366" stop-color="#414487"/><stop offset="0.5366" stop-color="#39568c"/><stop offset="0.5584" stop-color="#39568c"/><stop offset="0.5584" stop-color="#31688e"/><stop offset="0.5869" stop-color="#31688e"/><stop offset="0.5869" stop-color="#2a788e"/><stop offset="0.6125" stop-color="#2a788e"/><stop offset="0.6125" stop-color="#23888e"/><stop offset="0.6420" stop-color="#23888e"/><stop offset="0.6420" stop-color="#1f988b"/><stop offset="0.6743" stop-color="#1f988b"/><stop offset="0.6743" stop-color="#22a884"/><stop offset="0.7075" stop-color="#22a884"/><stop offset="0.7075" stop-color="#35b779"/><stop offset="0.7578" stop-color="#35b779"/><stop offset="0.7578" stop-color="#54c568"/><stop offset="0.7996" stop-color="#54c568"/><stop offset="0.7996" stop-color="#7ad151"/><stop offset="0.8414" stop-color="#7ad151"/><stop offset="0.8414" stop-color="#a5db36"/><stop offset="0.8832" stop-color="#a5db36"/><stop offset="0.8832" stop-color="#c8e020"/><stop offset="0.9421" stop-color="#c8e020"/><stop offset="0.9421" stop-color="#e3e31c"/><stop offset="1.0000" stop-color="#e3e31c"/></linearGradient>
<rect x="290.5" y="291" width="32.6" height="105.3" fill="url(#gF0)"/>
<linearGradient id="gF1" gradientUnits="userSpaceOnUse" x1="0" y1="291" x2="0" y2="396.3"><stop offset="0.0000" stop-color="#46105e"/><stop offset="0.4435" stop-color="#46105e"/><stop offset="0.4435" stop-color="#481a6c"/><stop offset="0.4634" stop-color="#481a6c"/><stop offset="0.4634" stop-color="#472f7d"/><stop offset="0.4843" stop-color="#472f7d"/><stop offset="0.4843" stop-color="#414487"/><stop offset="0.5242" stop-color="#414487"/><stop offset="0.5242" stop-color="#39568c"/><stop offset="0.5575" stop-color="#39568c"/><stop offset="0.5575" stop-color="#31688e"/><stop offset="0.5897" stop-color="#31688e"/><stop offset="0.5897" stop-color="#2a788e"/><stop offset="0.6078" stop-color="#2a788e"/><stop offset="0.6078" stop-color="#23888e"/><stop offset="0.6315" stop-color="#23888e"/><stop offset="0.6315" stop-color="#1f988b"/><stop offset="0.6648" stop-color="#1f988b"/><stop offset="0.6648" stop-color="#22a884"/><stop offset="0.6990" stop-color="#22a884"/><stop offset="0.6990" stop-color="#35b779"/><stop offset="0.7407" stop-color="#35b779"/><stop offset="0.7407" stop-color="#54c568"/><stop offset="0.7749" stop-color="#54c568"/><stop offset="0.7749" stop-color="#7ad151"/><stop offset="0.8167" stop-color="#7ad151"/><stop offset="0.8167" stop-color="#a5db36"/><stop offset="0.8500" stop-color="#a5db36"/><stop offset="0.8500" stop-color="#c8e020"/><stop offset="0.9250" stop-color="#c8e020"/><stop offset="0.9250" stop-color="#e3e31c"/><stop offset="1.0000" stop-color="#e3e31c"/></linearGradient>
<rect x="331" y="291" width="32.6" height="105.3" fill="url(#gF1)"/>
<linearGradient id="gF2" gradientUnits="userSpaceOnUse" x1="0" y1="291" x2="0" y2="396.3"><stop offset="0.0000" stop-color="#46105e"/><stop offset="0.4748" stop-color="#46105e"/><stop offset="0.4748" stop-color="#481a6c"/><stop offset="0.4910" stop-color="#481a6c"/><stop offset="0.4910" stop-color="#472f7d"/><stop offset="0.5071" stop-color="#472f7d"/><stop offset="0.5071" stop-color="#414487"/><stop offset="0.5394" stop-color="#414487"/><stop offset="0.5394" stop-color="#39568c"/><stop offset="0.5603" stop-color="#39568c"/><stop offset="0.5603" stop-color="#31688e"/><stop offset="0.5802" stop-color="#31688e"/><stop offset="0.5802" stop-color="#2a788e"/><stop offset="0.6211" stop-color="#2a788e"/><stop offset="0.6211" stop-color="#23888e"/><stop offset="0.6534" stop-color="#23888e"/><stop offset="0.6534" stop-color="#1f988b"/><stop offset="0.6790" stop-color="#1f988b"/><stop offset="0.6790" stop-color="#22a884"/><stop offset="0.6914" stop-color="#22a884"/><stop offset="0.6914" stop-color="#35b779"/><stop offset="0.7493" stop-color="#35b779"/><stop offset="0.7493" stop-color="#54c568"/><stop offset="0.7825" stop-color="#54c568"/><stop offset="0.7825" stop-color="#7ad151"/><stop offset="0.8167" stop-color="#7ad151"/><stop offset="0.8167" stop-color="#a5db36"/><stop offset="0.8538" stop-color="#a5db36"/><stop offset="0.8538" stop-color="#c8e020"/><stop offset="0.9459" stop-color="#c8e020"/><stop offset="0.9459" stop-color="#e3e31c"/><stop offset="1.0000" stop-color="#e3e31c"/></linearGradient>
<rect x="371.5" y="291" width="32.6" height="105.3" fill="url(#gF2)"/>
<line x1="286.3" y1="291" x2="286.3" y2="396.7" stroke="#777" stroke-width="0.9"/>
<line x1="285.85" y1="396.7" x2="408.7" y2="396.7" stroke="#777" stroke-width="0.9"/>
<line x1="284.3" y1="291" x2="286.3" y2="291" stroke="#777" stroke-width="0.9"/>
<text x="283.1" y="294" text-anchor="end" font-size="7.2" textLength="11.25" lengthAdjust="spacingAndGlyphs" class="ax">100</text>
<line x1="284.3" y1="317.32" x2="286.3" y2="317.32" stroke="#777" stroke-width="0.9"/>
<text x="283.1" y="320.32" text-anchor="end" font-size="7.2" textLength="7.50" lengthAdjust="spacingAndGlyphs" class="ax">75</text>
<line x1="284.3" y1="343.65" x2="286.3" y2="343.65" stroke="#777" stroke-width="0.9"/>
<text x="283.1" y="346.65" text-anchor="end" font-size="7.2" textLength="7.50" lengthAdjust="spacingAndGlyphs" class="ax">50</text>
<line x1="284.3" y1="369.98" x2="286.3" y2="369.98" stroke="#777" stroke-width="0.9"/>
<text x="283.1" y="372.98" text-anchor="end" font-size="7.2" textLength="7.50" lengthAdjust="spacingAndGlyphs" class="ax">25</text>
<line x1="284.3" y1="396.3" x2="286.3" y2="396.3" stroke="#777" stroke-width="0.9"/>
<text x="283.1" y="399.3" text-anchor="end" font-size="7.2" textLength="3.75" lengthAdjust="spacingAndGlyphs" class="ax">0</text>
<line x1="306.8" y1="396.3" x2="306.8" y2="398.1" stroke="#777" stroke-width="0.9"/>
<text x="306.8" y="405.7" text-anchor="middle" font-size="7.2" textLength="9.33" lengthAdjust="spacingAndGlyphs" class="ax">JM</text>
<line x1="347.3" y1="396.3" x2="347.3" y2="398.1" stroke="#777" stroke-width="0.9"/>
<text x="347.3" y="405.7" text-anchor="middle" font-size="7.2" textLength="22.31" lengthAdjust="spacingAndGlyphs" class="ax">PK_JM</text>
<line x1="387.8" y1="396.3" x2="387.8" y2="398.1" stroke="#777" stroke-width="0.9"/>
<text x="387.8" y="405.7" text-anchor="middle" font-size="7.2" textLength="9.33" lengthAdjust="spacingAndGlyphs" class="ax">PK</text>
<text x="286.3" y="284.9" font-size="8.3" class="ax">F</text>
<text transform="translate(269.2,343.6) rotate(-90)" text-anchor="middle" font-size="7.0" textLength="117.33" lengthAdjust="spacingAndGlyphs" class="ax">Relative abundance on Genus level (%)</text>
<rect x="414.6" y="285.4" width="13.1" height="6.2" fill="#46105e"/>
<text x="429.3" y="290.3" font-size="6.6" textLength="15.86" lengthAdjust="spacingAndGlyphs" class="lg">Others</text>
<rect x="414.6" y="292.82" width="13.1" height="6.2" fill="#481a6c"/>
<text x="429.3" y="297.72" font-size="6.6" textLength="73.03" lengthAdjust="spacingAndGlyphs" class="lg">norank_f__Methyloligellaceae</text>
<rect x="414.6" y="300.24" width="13.1" height="6.2" fill="#472f7d"/>
<text x="429.3" y="305.14" font-size="6.6" textLength="75.35" lengthAdjust="spacingAndGlyphs" class="lg">Candidatus_Xiphinematobacter</text>
<rect x="414.6" y="307.66" width="13.1" height="6.2" fill="#414487"/>
<text x="429.3" y="312.56" font-size="6.6" textLength="39.00" lengthAdjust="spacingAndGlyphs" class="lg">Bradyrhizobium</text>
<rect x="414.6" y="315.08" width="13.1" height="6.2" fill="#39568c"/>
<text x="429.3" y="319.98" font-size="6.6" textLength="31.73" lengthAdjust="spacingAndGlyphs" class="lg">Microlunatus</text>
<rect x="414.6" y="322.5" width="13.1" height="6.2" fill="#31688e"/>
<text x="429.3" y="327.4" font-size="6.6" textLength="85.94" lengthAdjust="spacingAndGlyphs" class="lg">norank_f__norank_o__IMCC26256</text>
<rect x="414.6" y="329.92" width="13.1" height="6.2" fill="#2a788e"/>
<text x="429.3" y="334.82" font-size="6.6" textLength="17.18" lengthAdjust="spacingAndGlyphs" class="lg">Gaiella</text>
<rect x="414.6" y="337.34" width="13.1" height="6.2" fill="#23888e"/>
<text x="429.3" y="342.24" font-size="6.6" textLength="41.31" lengthAdjust="spacingAndGlyphs" class="lg">norank_f__67-14</text>
<rect x="414.6" y="344.76" width="13.1" height="6.2" fill="#1f988b"/>
<text x="429.3" y="349.66" font-size="6.6" textLength="118.96" lengthAdjust="spacingAndGlyphs" class="lg">norank_f__norank_o__norank_c__Actinobacteria</text>
<rect x="414.6" y="352.18" width="13.1" height="6.2" fill="#22a884"/>
<text x="429.3" y="357.08" font-size="6.6" textLength="37.67" lengthAdjust="spacingAndGlyphs" class="lg">Mycobacterium</text>
<rect x="414.6" y="359.6" width="13.1" height="6.2" fill="#35b779"/>
<text x="429.3" y="364.5" font-size="6.6" textLength="59.81" lengthAdjust="spacingAndGlyphs" class="lg">Candidatus_Udaeobacter</text>
<rect x="414.6" y="367.02" width="13.1" height="6.2" fill="#54c568"/>
<text x="429.3" y="371.92" font-size="6.6" textLength="103.44" lengthAdjust="spacingAndGlyphs" class="lg">norank_f__norank_o__norank_c__KD4-96</text>
<rect x="414.6" y="374.44" width="13.1" height="6.2" fill="#7ad151"/>
<text x="429.3" y="379.34" font-size="6.6" textLength="94.18" lengthAdjust="spacingAndGlyphs" class="lg">norank_f__norank_o__Rokubacteriales</text>
<rect x="414.6" y="381.86" width="13.1" height="6.2" fill="#a5db36"/>
<text x="429.3" y="386.76" font-size="6.6" textLength="79.64" lengthAdjust="spacingAndGlyphs" class="lg">norank_f__norank_o__Gaiellales</text>
<rect x="414.6" y="389.28" width="13.1" height="6.2" fill="#c8e020"/>
<text x="429.3" y="394.18" font-size="6.6" textLength="72.68" lengthAdjust="spacingAndGlyphs" class="lg">norank_f__Xanthobacteraceae</text>
<rect x="414.6" y="396.7" width="13.1" height="6.2" fill="#e3e31c"/>
<text x="429.3" y="401.6" font-size="6.6" textLength="113.03" lengthAdjust="spacingAndGlyphs" class="lg">norank_f__norank_o__norank_c__Subgroup_6</text>
</svg></div></body></html>
